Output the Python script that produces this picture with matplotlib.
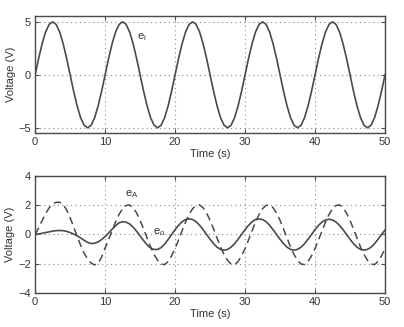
import numpy as np
import matplotlib.pyplot as plt

# DATA SECTION (0.5 s steps)---------------------------------------------------
time = np.arange(0.0, 50.5, 0.5)

e_i = [0.0, 1.55, 2.94, 4.05, 4.76, 5.0, 4.76, 4.05, 2.94, 1.55,
       0.0, -1.55, -2.94, -4.05, -4.76, -5.0, -4.76, -4.05, -2.94, -1.55,
       0.0, 1.55, 2.94, 4.05, 4.76, 5.0, 4.76, 4.05, 2.94, 1.55,
       0.0, -1.55, -2.94, -4.05, -4.76, -5.0, -4.76, -4.05, -2.94, -1.55,
       0.0, 1.55, 2.94, 4.05, 4.76, 5.0, 4.76, 4.05, 2.94, 1.55,
       0.0, -1.55, -2.94, -4.05, -4.76, -5.0, -4.76, -4.05, -2.94, -1.55,
       0.0, 1.55, 2.94, 4.05, 4.76, 5.0, 4.76, 4.05, 2.94, 1.55,
       0.0, -1.55, -2.94, -4.05, -4.76, -5.0, -4.76, -4.05, -2.94, -1.55,
       0.0, 1.55, 2.94, 4.05, 4.76, 5.0, 4.76, 4.05, 2.94, 1.55,
       0.0, -1.55, -2.94, -4.05, -4.76, -5.0, -4.76, -4.05, -2.94, -1.55,
       0.0]

e_A = [0.0, 0.45, 0.95, 1.42, 1.82, 2.08, 2.2, 2.2, 2.06, 1.68,
       1.14, 0.52, -0.12, -0.74, -1.28, -1.68, -1.96, -2.08, -1.98, -1.55,
       -0.93, -0.34, 0.27, 0.86, 1.38, 1.76, 1.98, 2.02, 1.83, 1.47,
       0.96, 0.37, -0.25, -0.85, -1.37, -1.77, -2.02, -2.06, -1.85, -1.46,
       -0.96, -0.37, 0.25, 0.85, 1.37, 1.76, 1.98, 2.02, 1.83, 1.46,
       0.96, 0.37, -0.25, -0.85, -1.37, -1.77, -2.02, -2.06, -1.85, -1.46,
       -0.96, -0.37, 0.25, 0.85, 1.37, 1.76, 1.98, 2.02, 1.83, 1.46,
       0.96, 0.37, -0.25, -0.85, -1.37, -1.77, -2.02, -2.06, -1.85, -1.46,
       -0.96, -0.37, 0.25, 0.85, 1.37, 1.76, 1.98, 2.02, 1.83, 1.46,
       0.96, 0.37, -0.25, -0.85, -1.37, -1.77, -2.02, -2.06, -1.85, -1.46,
       -0.96]

e_o = [0.0, 0.03, 0.08, 0.13, 0.18, 0.23, 0.26, 0.27, 0.26, 0.21,
       0.13, 0.03, -0.09, -0.24, -0.40, -0.54, -0.62, -0.60, -0.51, -0.35,
       -0.14, 0.10, 0.36, 0.60, 0.80, 0.87, 0.84, 0.72, 0.50, 0.22,
       -0.10, -0.42, -0.71, -0.93, -1.03, -1.02, -0.90, -0.66, -0.35, 0.0,
       0.33, 0.63, 0.87, 1.02, 1.07, 1.02, 0.87, 0.63, 0.33, 0.0,
       -0.33, -0.63, -0.87, -1.02, -1.07, -1.02, -0.87, -0.63, -0.33, 0.0,
       0.33, 0.63, 0.87, 1.02, 1.06, 1.02, 0.87, 0.63, 0.33, 0.0,
       -0.33, -0.63, -0.87, -1.02, -1.07, -1.02, -0.87, -0.63, -0.33, 0.0,
       0.33, 0.62, 0.85, 0.99, 1.04, 0.99, 0.85, 0.62, 0.33, 0.0,
       -0.33, -0.63, -0.87, -1.02, -1.07, -1.02, -0.87, -0.63, -0.33, 0.0,
       0.3]

xticks = [0, 10, 20, 30, 40, 50]
yticks_top = [-5, 0, 5]
yticks_bot = [-4, -2, 0, 2, 4]

# STYLE SECTION----------------------------------------------------------------
ink = '#4a4a4a'
plt.rcParams['font.family'] = ['Liberation Sans', 'DejaVu Sans']
plt.rcParams['font.size'] = 8
plt.rcParams['mathtext.fontset'] = 'custom'
plt.rcParams['mathtext.rm'] = 'Liberation Sans'
plt.rcParams['mathtext.it'] = 'Liberation Sans'

fig = plt.figure(figsize=(4.04, 3.27), dpi=100)
ax1 = fig.add_axes([0.087, 0.593, 0.866, 0.358])
ax2 = fig.add_axes([0.087, 0.104, 0.866, 0.358])

def style(ax, yticks, ylim):
    ax.set_xlim(0, 50); ax.set_ylim(*ylim)
    ax.set_xticks(xticks); ax.set_yticks(yticks)
    ax.grid(True, linestyle=(0, (1, 3)), color='#888888', linewidth=0.8)
    ax.tick_params(direction='in', length=3, top=True, right=True,
                   colors=ink, labelcolor='#333333', pad=3)
    for s in ax.spines.values():
        s.set_color(ink); s.set_linewidth(1.0)
    ax.set_xlabel('Time (s)', color='#333333', labelpad=1)
    ax.set_ylabel('Voltage (V)', color='#333333', labelpad=2)

# TOP PLOT---------------------------------------------------------------------
ax1.plot(time, e_i, color=ink, linewidth=1.2)
style(ax1, yticks_top, (-5.5, 5.55))
ax1.text(14.6, 3.6, r'$\mathrm{e_i}$', color='#333333', fontsize=8, va='center')

# BOTTOM PLOT------------------------------------------------------------------
ax2.plot(time, e_A, color=ink, linewidth=1.1, linestyle=(0, (5, 3)))
ax2.plot(time, e_o, color=ink, linewidth=1.2)
style(ax2, yticks_bot, (-4, 4))
ax2.text(12.9, 2.75, r'$\mathrm{e_A}$', color='#333333', fontsize=8, va='center')
ax2.text(16.8, 0.15, r'$\mathrm{e_o}$', color='#333333', fontsize=8, va='center')

fig.savefig('out.png', dpi=100)
